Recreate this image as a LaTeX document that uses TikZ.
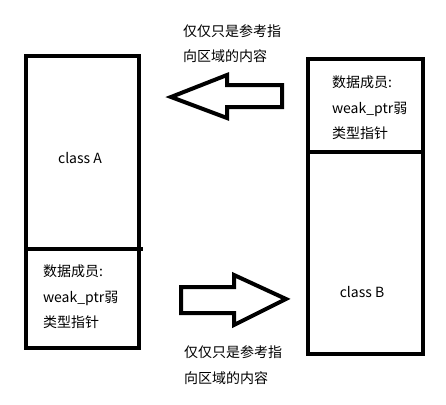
\documentclass[tikz,border=0pt]{standalone}
\usepackage{fontspec}
\setmainfont{Noto Sans CJK SC}
\begin{document}
\begin{tikzpicture}[x=1pt,y=-1pt,line width=4pt,
  txt/.style={anchor=west,align=left,inner sep=0pt,font=\fontsize{14}{25.5}\selectfont}]
 \useasboundingbox (0,0) rectangle (446,404);
 % class A
 \draw (26,56) rectangle (139,348);
 \draw (26,249)--(143,249);
 \node (clsA) at (80,158) [font=\fontsize{14}{17}\selectfont] {class A};
 \node (memA) [txt] at (41,297) {数据成员:\\weak\_ptr弱\\类型指针};
 % class B
 \draw (308,59) rectangle (423,354);
 \draw (308,152)--(425,152);
 \node (clsB) at (362,292) [font=\fontsize{14}{17}\selectfont] {class B};
 \node (memB) [txt] at (330,108) {数据成员:\\weak\_ptr弱\\类型指针};
 % arrows
 \draw[line join=miter] (171,97)--(227,75)--(227,85)--(282,85)--(282,107)--(227,107)--(227,118)--cycle;
 \draw[line join=miter] (286,299)--(234,275)--(234,287)--(181,287)--(181,313)--(234,313)--(234,325)--cycle;
 \node (noteUp) [txt] at (181,43.5) {仅仅只是参考指\\向区域的内容};
 \node (noteDn) [txt] at (182,365) {仅仅只是参考指\\向区域的内容};
\end{tikzpicture}
\end{document}
